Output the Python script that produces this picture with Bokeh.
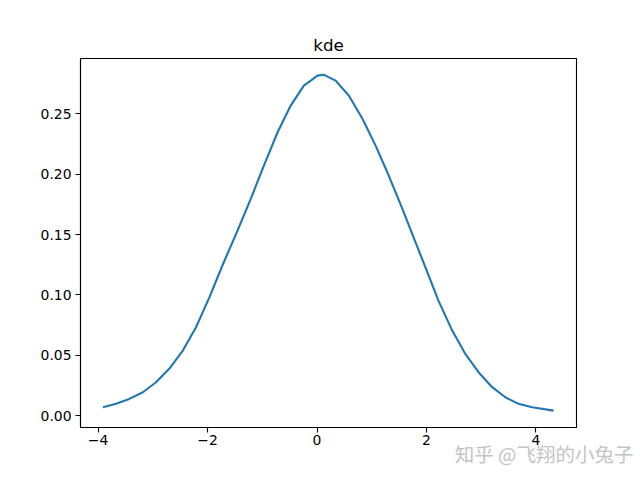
from bokeh.plotting import figure
from bokeh.models import Range1d, FixedTicker, Title, CustomJSTickFormatter
from bokeh.embed import file_html
from bokeh.resources import INLINE

# KDE curve
kde_x = [-3.91, -3.67, -3.43, -3.18, -2.94, -2.70, -2.45, -2.21, -1.97, -1.72,
         -1.45, -1.21, -0.97, -0.72, -0.48, -0.24, 0.01, 0.12, 0.34, 0.58,
         0.83, 1.07, 1.31, 1.56, 1.80, 2.04, 2.22, 2.47, 2.71, 2.95,
         3.20, 3.44, 3.68, 3.93, 4.32]
kde_y = [0.0068, 0.0097, 0.0138, 0.0193, 0.0276, 0.0387, 0.0539, 0.0732, 0.0975, 0.1252,
         0.1535, 0.1796, 0.2072, 0.2348, 0.2569, 0.2734, 0.2817, 0.2825, 0.2776, 0.2652,
         0.2459, 0.2237, 0.1989, 0.1713, 0.1436, 0.1160, 0.0950, 0.0704, 0.0511, 0.0359,
         0.0235, 0.0152, 0.0097, 0.0069, 0.0041]

x_ticks = [-4, -2, 0, 2, 4]
y_ticks = [0.00, 0.05, 0.10, 0.15, 0.20, 0.25]
title_text = "kde"
watermark = "知乎 @飞翔的小兔子"

p = figure(width=640, height=480, output_backend="svg", toolbar_location=None,
           x_range=Range1d(-4.32, 4.74), y_range=Range1d(-0.0099, 0.2959),
           min_border_left=80, min_border_right=64, min_border_top=58, min_border_bottom=53)

p.title.text = title_text
p.title.align = "center"
p.title.text_font = "DejaVu Sans"
p.title.text_font_size = "16.7px"
p.title.text_font_style = "normal"
p.title.text_color = "black"
p.title.standoff = 7

p.line(kde_x, kde_y, line_color="#1f77b4", line_width=2.1)

p.xgrid.visible = False
p.ygrid.visible = False
p.outline_line_color = "black"
p.outline_line_width = 1.1
p.outline_line_alpha = 1.0

p.xaxis.ticker = FixedTicker(ticks=x_ticks)
p.yaxis.ticker = FixedTicker(ticks=y_ticks)
p.xaxis.formatter = CustomJSTickFormatter(code="return tick < 0 ? '\u2212' + Math.abs(tick).toFixed(0) : tick.toFixed(0);")
p.yaxis.formatter = CustomJSTickFormatter(code="return tick.toFixed(2);")
for ax in (p.xaxis, p.yaxis):
    ax.axis_line_color = "black"
    ax.axis_line_width = 1.1
    ax.major_tick_line_color = "black"
    ax.major_tick_line_width = 1.1
    ax.major_tick_out = 5
    ax.major_tick_in = 0
    ax.minor_tick_line_color = None
    ax.major_label_text_font = "DejaVu Sans"
    ax.major_label_text_font_size = "13.9px"
    ax.major_label_text_color = "black"
p.xaxis.major_label_standoff = 2
p.yaxis.major_label_standoff = 4

wm = Title(text=watermark, align="right", offset=-57, standoff=-18, vertical_align="top",
           text_font="Noto Sans CJK SC", text_font_size="19.5px",
           text_font_style="normal", text_color="#c4c4c4")
p.add_layout(wm, "below")

open("out.html", "w").write(file_html(p, INLINE))
